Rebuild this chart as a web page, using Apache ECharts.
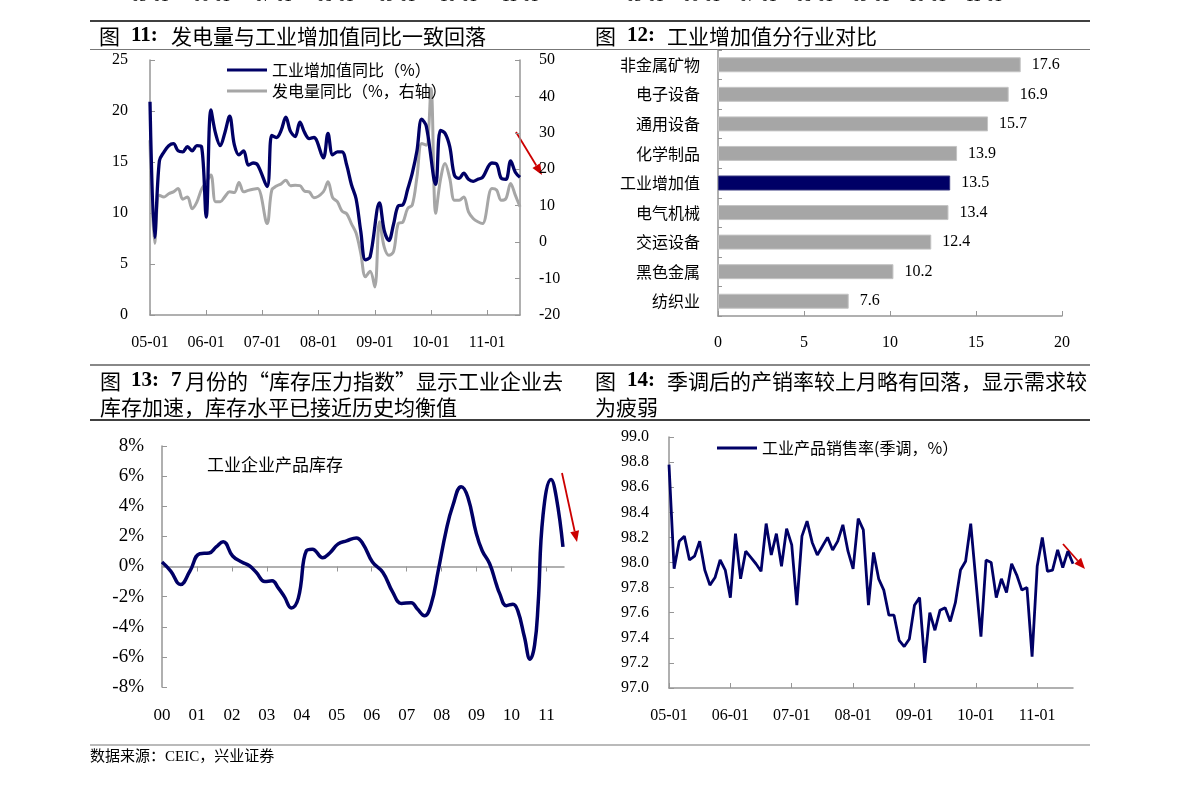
<!DOCTYPE html>
<html>
<head>
<meta charset="utf-8">
<style>
    html, body {margin: 0; padding: 0; background: #fff;}
    #main {width: 1191px; height: 786px;}
</style>
<script src="https://cdn.jsdelivr.net/npm/echarts@6/dist/echarts.min.js"></script>
</head>
<body>
<div id="main"></div>
<script>
const SERIF = "'Liberation Serif','Noto Sans CJK SC',serif";
const CJK = "'Noto Sans CJK SC',sans-serif";
const NAVY = '#000066';
const GREY = '#A6A6A6';
const AXIS = '#969696';
const RED = '#CC0000';

// 月份类目 05-01 ... 11-08
const months = [];
for (let y = 5; y <= 11; y++)
    for (let m = 1; m <= 12; m++) {
        if (y === 11 && m > 8) break;
        months.push(String(y).padStart(2, '0') + '-' + String(m).padStart(2, '0'));
    }

// 图11 工业增加值同比 / 发电量同比(右轴)
const ipYoY = [
    20.9, 7.6, 15.1, 16.0, 16.6, 16.8, 16.1, 16.0, 16.5, 16.1, 16.6, 16.5,
    9.6, 20.1, 17.8, 16.6, 17.9, 19.5, 16.7, 15.7, 16.1, 14.7, 14.9, 14.7,
    null, 12.6, 17.6, 17.4, 18.1, 19.4, 18.0, 17.5, 18.9, 17.9, 17.3, 17.4,
    null, 15.4, 17.8, 15.7, 16.0, 16.0, 14.7, 12.8, 11.4, 8.2, 5.4, 5.7,
    null, 11.0, 8.3, 7.3, 8.9, 10.7, 10.8, 12.3, 13.9, 16.1, 19.2, 18.5,
    null, 12.8, 18.1, 17.8, 16.5, 13.7, 13.4, 13.9, 13.3, 13.1, 13.3, 13.5,
    null, 14.9, 14.8, 13.4, 13.3, 15.1, 14.0, 13.5
];
const powerYoY = [
    28, -0.3, 12.9, 12.4, 13.3, 13.8, 14.7, 11.8, 12.4, 9.2, 11.0, 14.5,
    16.4, 18.4, 11.1, 11.1, 12.5, 13.8, 13.6, 16.4, 13.8, 14.2, 14.5, 14.7,
    null, 5.1, 14.3, 15.4, 16.0, 17.0, 15.5, 15.6, 15.5, 14.0, 13.8, 12.2,
    null, 13.8, 16.6, 12.2, 11.1, 8.5, 7.8, 5.1, 2.5, -3.0, -9.5, -8.0,
    -12.3, 5.6, -1.3, -3.6, -2.6, 5.1, 5.5, 9.2, 10.2, 17.9, 27.1, 26.6,
    42.2, 7.9, 17.0, 21.6, 17.5, 11.5, 11.5, 12.4, 8.3, 6.5, 5.6, 5.1,
    null, 14.7, 14.3, 11.5, 12.0, 16.1, 12.9, 9.7
];

// 图12 分行业
const industries = ['非金属矿物', '电子设备', '通用设备', '化学制品', '工业增加值', '电气机械', '交运设备', '黑色金属', '纺织业'];
const industryValues = [17.6, 16.9, 15.7, 13.9, 13.5, 13.4, 12.4, 10.2, 7.6];
const highlight = '工业增加值';

// 图13 库存压力指数 (年份, 以2000年为0)
const invYear = [0, 0.25, 0.53, 0.8, 1.08, 1.35, 1.55, 1.75, 2.02, 2.28, 2.5, 2.7, 2.94, 3.15, 3.32, 3.5, 3.7, 3.9,
    4.13, 4.3, 4.6, 4.8, 5.04, 5.28, 5.56, 5.75, 6.02, 6.32, 6.6, 6.85, 7.13, 7.3, 7.51, 7.7, 7.9,
    8.13, 8.32, 8.56, 8.75, 8.99, 9.16, 9.37, 9.56, 9.66, 9.85, 10.04, 10.18, 10.37, 10.53, 10.66,
    10.76, 10.9, 11.13, 11.28, 11.47];
const invValue = [0.3, -0.3, -1.2, -0.3, 0.85, 0.9, 1.3, 1.65, 0.7, 0.3, 0.05, -0.4, -1.0, -0.95, -1.4, -2.0, -2.75, -2.1,
    1.05, 1.15, 0.58, 0.9, 1.5, 1.7, 1.9, 1.5, 0.3, -0.4, -1.7, -2.45, -2.4, -2.8, -3.27, -2.5, -0.3,
    2.4, 4.05, 5.3, 4.6, 2.2, 1.05, 0.2, -1.15, -1.8, -2.6, -2.5, -2.95, -4.7, -6.15, -5.2,
    -2.5, 3.4, 5.78, 4.6, 1.3];
const invYearLabels = [0, 1, 2, 3, 4, 5, 6, 7, 8, 9, 10, 11];

// 图14 工业产品销售率(季调)
const salesRate = [
    98.78, 97.95, 98.17, 98.21, 98.02, 98.05, 98.17, 97.94, 97.82, 97.88, 98.02, 97.94,
    97.72, 98.23, 97.87, 98.09, 98.04, 97.99, 97.93, 98.31, 98.06, 98.23, 97.97, 98.27,
    98.14, 97.66, 98.21, 98.33, 98.16, 98.06, 98.13, 98.20, 98.10, 98.17, 98.30, 98.09,
    97.95, 98.35, 98.26, 97.66, 98.08, 97.87, 97.78, 97.58, 97.58, 97.38, 97.33, 97.39,
    97.66, 97.72, 97.20, 97.60, 97.46, 97.62, 97.64, 97.53, 97.68, 97.94, 98.01, 98.31,
    97.86, 97.41, 98.02, 98.00, 97.72, 97.87, 97.76, 97.99, 97.90, 97.78, 97.80, 97.25,
    97.97, 98.20, 97.93, 97.94, 98.10, 97.96, 98.09, 97.99
];

const chart = echarts.init(document.getElementById('main'), null, {renderer: 'canvas'});

const axisLine = {show: true, lineStyle: {color: AXIS, width: 1.5}};
const tickIn = (extra = {}) => Object.assign({show: true, inside: true, length: 5, lineStyle: {color: AXIS, width: 1}}, extra);
const numLabel = (size, margin, extra = {}) => Object.assign({color: '#000', fontFamily: SERIF, fontSize: size, margin: margin}, extra);

function text(x, y, str, size, extra = {}) {
    return {
        type: 'text', x: x, y: y, silent: true,
        style: Object.assign({text: str, fontSize: size, fontFamily: CJK, fill: '#000', verticalAlign: 'middle'}, extra)
    };
}

function rule(y, color, width) {
    return {type: 'line', silent: true, shape: {x1: 90, y1: y, x2: 1090, y2: y}, style: {stroke: color, lineWidth: width}};
}

function arrow(x1, y1, x2, y2) {
    const a = Math.atan2(y2 - y1, x2 - x1), len = 11, w = 4.5;
    const bx = x2 - len * Math.cos(a), by = y2 - len * Math.sin(a);

    return [
        {type: 'line', silent: true, shape: {x1: x1, y1: y1, x2: bx, y2: by}, style: {stroke: RED, lineWidth: 1.8}},
        {
            type: 'polygon', silent: true,
            shape: {points: [[x2, y2], [bx + w * Math.sin(a), by - w * Math.cos(a)], [bx - w * Math.sin(a), by + w * Math.cos(a)]]},
            style: {fill: RED}
        }
    ];
}

// 标题: 图 + 编号 + 文字
function title(x, y, num, str) {
    return [
        text(x, y, '图', 21),
        text(x + 32, y, num + ':', 21, {fontFamily: SERIF, fontWeight: 'bold'}),
        text(x + 72, y, str, 21)
    ];
}

const yearTicks = months.filter(m => m.endsWith('-01')).slice(0, 7);
const graphics = [].concat(
    // 上一组图被截掉的横轴标签
    yearTicks.map((t, i) => text(150 + i * 61.7, -3, t, 16, {fontFamily: SERIF, align: 'center'})),
    yearTicks.map((t, i) => text(645 + i * 56.5, -3, t, 16, {fontFamily: SERIF, align: 'center'})),
    rule(21, '#000', 1.5),
    rule(49.5, '#777', 1),
    rule(365, '#888', 2),
    rule(420, '#000', 1.5),
    rule(745, '#777', 1.2),
    title(99, 36, '11', '发电量与工业增加值同比一致回落'),
    title(595, 36, '12', '工业增加值分行业对比'),
    [
        text(100, 381, '图', 21),
        text(131, 381, '13:', 21, {fontFamily: SERIF, fontWeight: 'bold'}),
        text(171, 381, '7', 21, {fontFamily: SERIF, fontWeight: 'bold'}),
        text(185, 381, '月份的“库存压力指数”显示工业企业去', 21),
        text(100, 407, '库存加速，库存水平已接近历史均衡值', 21)
    ],
    title(595, 381, '14', '季调后的产销率较上月略有回落，显示需求较'),
    text(595, 407, '为疲弱', 21),
    text(207, 465, '工业企业产品库存', 17),
    text(90, 757, '数据来源：CEIC，兴业证券', 15, {fontFamily: SERIF}),
    arrow(516, 132, 542, 175),
    arrow(562, 473, 577, 542),
    arrow(1063, 544, 1085, 569)
);

chart.setOption({
    animation: false,
    textStyle: {fontFamily: SERIF},
    grid: [
        {left: 150, top: 60, width: 370, height: 255},
        {left: 718, top: 50, width: 344, height: 266},
        {left: 162, top: 446, width: 402, height: 241},
        {left: 669, top: 437, width: 404, height: 251}
    ],
    legend: [
        {
            orient: 'vertical', left: 227, top: 62, padding: 0, itemWidth: 40, itemHeight: 3, itemGap: 5, icon: 'rect',
            selectedMode: false, data: ['工业增加值同比（%）', '发电量同比（%，右轴）'],
            textStyle: {fontFamily: CJK, fontSize: 16, color: '#000'}
        },
        {
            orient: 'vertical', left: 717, top: 440, padding: 0, itemWidth: 40, itemHeight: 3, icon: 'rect',
            selectedMode: false, data: ['工业产品销售率(季调，%）'],
            textStyle: {fontFamily: CJK, fontSize: 16, color: '#000'}
        }
    ],
    xAxis: [
        {
            type: 'category', gridIndex: 0, data: months, boundaryGap: false,
            axisLine: axisLine, axisTick: tickIn({interval: 11}),
            axisLabel: numLabel(16, 20, {interval: 11}), splitLine: {show: false}
        },
        {
            type: 'value', gridIndex: 1, min: 0, max: 20, interval: 5,
            axisLine: axisLine, axisTick: tickIn(), axisLabel: numLabel(16, 19), splitLine: {show: false}
        },
        {
            type: 'value', gridIndex: 2, min: 0, max: 11.5,
            axisLine: {show: false, onZero: false}, axisTick: {show: false},
            axisLabel: numLabel(17, 20, {
                customValues: invYearLabels,
                formatter: v => String(v).padStart(2, '0')
            }),
            splitLine: {show: false}
        },
        {
            type: 'value', gridIndex: 2, min: 0, max: 11.5,
            axisLine: {show: true, onZero: true, lineStyle: {color: AXIS, width: 1.5}},
            axisTick: tickIn({customValues: invYearLabels.slice(1)}),
            axisLabel: {show: false}, splitLine: {show: false}
        },
        {
            type: 'category', gridIndex: 3, data: months, boundaryGap: false,
            axisLine: axisLine, axisTick: tickIn({interval: 11}),
            axisLabel: numLabel(16, 20, {interval: 11}), splitLine: {show: false}
        }
    ],
    yAxis: [
        {
            type: 'value', gridIndex: 0, min: 0, max: 25, interval: 5,
            axisLine: axisLine, axisTick: tickIn(), axisLabel: numLabel(16, 22), splitLine: {show: false}
        },
        {
            type: 'value', gridIndex: 0, position: 'right', min: -20, max: 50, interval: 10,
            axisLine: axisLine, axisTick: tickIn(), axisLabel: numLabel(16, 19), splitLine: {show: false}
        },
        {
            type: 'category', gridIndex: 1, data: industries, inverse: true,
            axisLine: axisLine, axisTick: tickIn({length: 4}),
            axisLabel: {color: '#000', fontFamily: CJK, fontSize: 16, margin: 18}, splitLine: {show: false}
        },
        {
            type: 'value', gridIndex: 2, min: -8, max: 8, interval: 2,
            axisLine: {show: true, onZero: false, lineStyle: {color: AXIS, width: 1.5}}, axisTick: tickIn(),
            axisLabel: numLabel(19, 18, {formatter: '{value}%'}), splitLine: {show: false}
        },
        {
            type: 'value', gridIndex: 3, min: 97, max: 99, interval: 0.2,
            axisLine: axisLine, axisTick: tickIn(),
            axisLabel: numLabel(16, 20, {formatter: v => v.toFixed(1)}), splitLine: {show: false}
        }
    ],
    series: [
        {
            name: '发电量同比（%，右轴）', type: 'line', xAxisIndex: 0, yAxisIndex: 1, data: powerYoY,
            smooth: 0.35, connectNulls: true, showSymbol: false, z: 2,
            lineStyle: {color: GREY, width: 3}, itemStyle: {color: GREY}
        },
        {
            name: '工业增加值同比（%）', type: 'line', xAxisIndex: 0, yAxisIndex: 0, data: ipYoY,
            smooth: 0.35, connectNulls: true, showSymbol: false, z: 3,
            lineStyle: {color: NAVY, width: 3.3}, itemStyle: {color: NAVY}
        },
        {
            type: 'bar', xAxisIndex: 1, yAxisIndex: 2, barWidth: 15,
            data: industryValues.map((v, i) => ({
                value: v,
                itemStyle: industries[i] === highlight
                    ? {color: NAVY, borderColor: '#3a3a80', borderWidth: 1}
                    : {color: GREY, borderColor: '#c4c4c4', borderWidth: 1}
            })),
            label: {show: true, position: 'right', distance: 11, color: '#000', fontFamily: SERIF, fontSize: 16}
        },
        {
            type: 'line', xAxisIndex: 2, yAxisIndex: 3, data: invYear.map((t, i) => [t, invValue[i]]),
            smooth: 0.45, showSymbol: false, lineStyle: {color: NAVY, width: 3.5}, itemStyle: {color: NAVY}
        },
        {
            name: '工业产品销售率(季调，%）', type: 'line', xAxisIndex: 4, yAxisIndex: 4, data: salesRate,
            showSymbol: false, lineStyle: {color: NAVY, width: 2.8}, itemStyle: {color: NAVY}
        }
    ],
    graphic: {elements: graphics}
});
</script>
</body>
</html>
